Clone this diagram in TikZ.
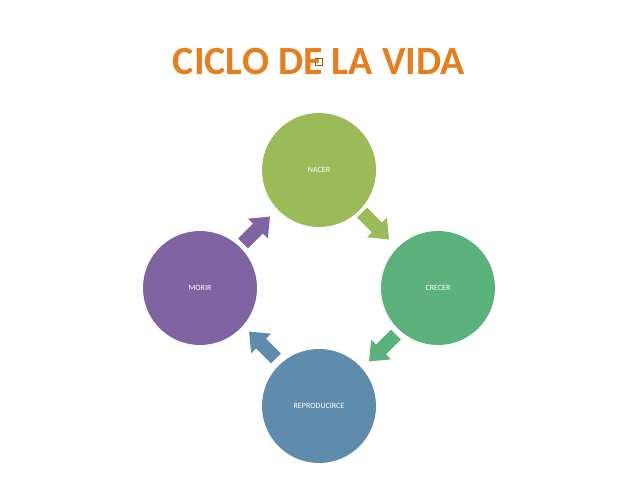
\documentclass[tikz,border=0pt]{standalone}
\usepackage{fontspec}
\setmainfont{Carlito}
\usetikzlibrary{positioning,calc}
\definecolor{nacer}{HTML}{9BBB59}
\definecolor{crecer}{HTML}{5BB27C}
\definecolor{repro}{HTML}{5F8BAD}
\definecolor{morir}{HTML}{8064A2}
\definecolor{titulo}{HTML}{E57E1E}
\definecolor{tituloborde}{HTML}{A8500A}
\tikzset{
  fase/.style={circle, minimum size=114pt, inner sep=0pt, text=white, font=\fontsize{8}{9}\selectfont},
  flecha/.pic={\fill[#1] (-19,-7) -- (2,-7) -- (2,-14) -- (19,0) -- (2,14) -- (2,7) -- (-19,7) -- cycle;}
}
\begin{document}
\begin{tikzpicture}[x=1pt, y=1pt]
      \useasboundingbox (0,0) rectangle (638,-479);
      \node[text=titulo, draw=tituloborde, line width=0.4pt, font=\fontsize{40}{44}\bfseries\selectfont] (titulo) at (319,-62) {};
      \node[text=titulo, font=\fontsize{40}{44}\bfseries\selectfont] (tit) at (319,-62) {CICLO DE LA VIDA};
      \node[fase, fill=nacer] (nacer) at (319,-170) {NACER};
      \node[fase, fill=crecer] (crecer) at (438,-288) {CRECER};
      \node[fase, fill=repro] (repro) at (319,-406) {REPRODUCIRCE};
      \node[fase, fill=morir] (morir) at (200,-288) {MORIR};

      \pic[rotate=-45] at ($(nacer)!0.5!(crecer)+(-3,3)$) {flecha=nacer};
      \pic[rotate=-135] at ($(crecer)!0.5!(repro)+(4,-1)$) {flecha=crecer};
      \pic[rotate=135] at ($(repro)!0.5!(morir)+(3,2)$) {flecha=repro};
      \pic[rotate=45] at ($(morir)!0.5!(nacer)+(-3,-1)$) {flecha=morir};
\end{tikzpicture}
\end{document}
